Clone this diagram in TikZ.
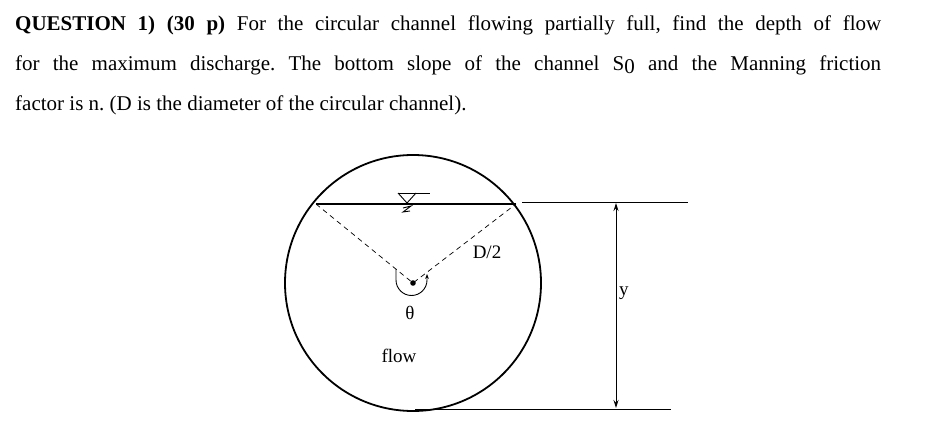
\documentclass[tikz,border=0pt]{standalone}
\usepackage{fontspec}
\setmainfont{Liberation Serif}
\usetikzlibrary{arrows.meta}
\begin{document}
\begin{tikzpicture}[x=1pt,y=-1pt,
  lbl/.style={inner sep=0pt,font=\fontsize{19}{20}\selectfont}]
\useasboundingbox (0,0) rectangle (941,443);
\node[anchor=north west,inner sep=0pt,text width=866pt,align=justify,font=\fontsize{21}{40}\selectfont\frenchspacing] (q) at (15,16)
 {\textbf{QUESTION 1) (30 p)} For the circular channel flowing partially full, find the depth of flow\linebreak for the maximum discharge. The bottom slope of the channel S\raisebox{-3pt}{0} and the Manning friction\linebreak factor is n. (D is the diameter of the circular channel).};
\coordinate (c) at (413,283);
\draw[line width=1.8pt] (c) circle (128);
\coordinate (wl) at (316,204);
\coordinate (wr) at (516,204);
\draw[line width=1.4pt] (wl) -- (wr);
\draw[line width=0.7pt,dash pattern=on 5pt off 4pt] (wl) -- (c) -- (wr);
\fill (c) circle (2.8);
% water symbol
\draw[line width=0.9pt] (398,193) -- (430,193);
\draw[line width=0.9pt] (398,193) -- (407,203) -- (416,193);
\draw[line width=0.9pt] (403,208) -- (411,206) -- (403,212) -- (410,211);
% theta arc
\draw[line width=0.9pt,-{Stealth[length=5pt]}] (396,269) -- (396,280) arc[start angle=180,end angle=0,radius=15.5] -- (427,274);
\node[lbl] (th) at (410,313) {θ};
\node[lbl] (d2) at (487,252) {D/2};
\node[lbl] (fl) at (399,356) {flow};
% depth
\coordinate (t1) at (522,202); \coordinate (t2) at (688,202);
\coordinate (b1) at (415,409); \coordinate (b2) at (671,409);
\draw[line width=0.9pt] (t1) -- (t2);
\draw[line width=0.9pt] (b1) -- (b2);
\coordinate (at) at (616,203); \coordinate (ab) at (616,408);
\draw[line width=1pt,{Stealth[length=8pt,width=5pt]}-{Stealth[length=8pt,width=5pt]}] (at) -- (ab);
\node[lbl,anchor=west] (y) at (619,293) {y};
\end{tikzpicture}
\end{document}
